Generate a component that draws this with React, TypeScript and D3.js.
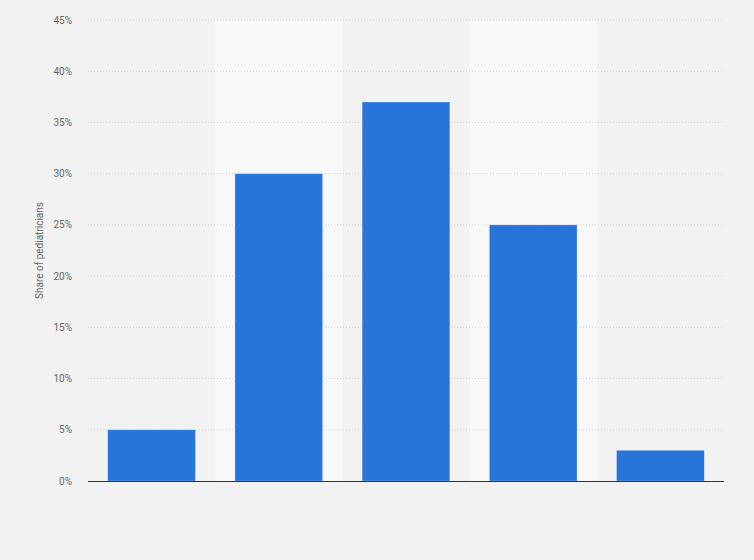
import React from "react";
import * as d3 from "d3";

const categories = ["Group 1", "Group 2", "Group 3", "Group 4", "Group 5"];
const shareValues = [5, 30, 37, 25, 3];
const yTicks = [0, 5, 10, 15, 20, 25, 30, 35, 40, 45];
const yAxisTitle = "Share of pediatricians";

const W = 754;
const H = 560;
const M = { left: 88, right: 30, top: 20, bottom: 79 };

export default function App() {
  const x = d3
    .scaleBand<string>()
    .domain(categories)
    .range([M.left, W - M.right])
    .paddingInner(0.31)
    .paddingOuter(0.155);
  const band = d3
    .scaleBand<string>()
    .domain(categories)
    .range([M.left, W - M.right]);
  const y = d3.scaleLinear().domain([0, 45]).range([H - M.bottom, M.top]);

  return (
    <svg
      width={W}
      height={H}
      style={{ position: "absolute", left: 0, top: 0, fontFamily: "Roboto, Arial, sans-serif" }}
    >
      <rect x={0} y={0} width={W} height={H} fill="#f2f2f2" />
      {categories.map((c, i) =>
        i % 2 === 1 ? (
          <rect
            key={"b" + c}
            x={band(c)}
            y={y(45)}
            width={band.bandwidth()}
            height={y(0) - y(45)}
            fill="#f8f8f8"
          />
        ) : null
      )}
      {yTicks.map((t) => (
        <g key={"t" + t}>
          {t > 0 && (
            <line
              x1={M.left}
              x2={W - M.right}
              y1={y(t)}
              y2={y(t)}
              stroke="#cfcfcf"
              strokeWidth={1}
              strokeDasharray="1,2"
            />
          )}
          <text
            x={72}
            y={y(t)}
            dy="0.35em"
            textAnchor="end"
            fontSize={10}
            fill="#666"
          >
            {t + "%"}
          </text>
        </g>
      ))}
      {categories.map((c, i) => (
        <rect
          key={"r" + c}
          x={x(c)}
          y={y(shareValues[i])}
          width={x.bandwidth()}
          height={y(0) - y(shareValues[i])}
          fill="#2775db"
          stroke="#ffffff"
          strokeOpacity={0.5}
          strokeWidth={0.6}
        />
      ))}
      <line
        x1={M.left}
        x2={W - M.right}
        y1={y(0) + 0.5}
        y2={y(0) + 0.5}
        stroke="#333"
        strokeWidth={1.2}
      />
      <text
        transform={`translate(43,${(y(0) + y(45)) / 2}) rotate(-90)`}
        textAnchor="middle"
        fontSize={10}
        fill="#666"
      >
        {yAxisTitle}
      </text>
    </svg>
  );
}
